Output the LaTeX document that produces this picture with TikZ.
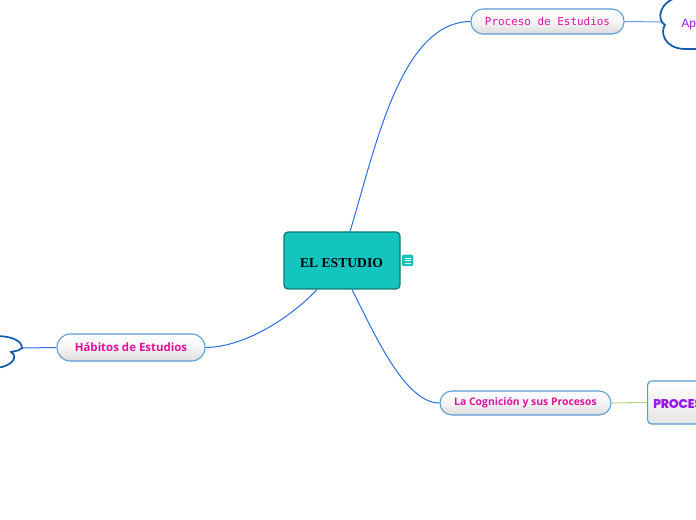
\documentclass[tikz,border=0pt]{standalone}
\usepackage{fontspec}
\usetikzlibrary{calc}
\newfontfamily\monofnt{DejaVu Sans Mono}
\newfontfamily\opensans{Open Sans}
\newfontfamily\timesfnt{Liberation Serif}
\newfontfamily\heavyfnt{Poppins}[BoldFeatures={FakeBold=1.5}]
\newfontfamily\cloudfnt{Liberation Sans}
\definecolor{teal1}{RGB}{20,196,190}
\definecolor{teal2}{RGB}{18,120,115}
\definecolor{pillborder}{RGB}{86,156,214}
\definecolor{linkblue}{RGB}{40,110,225}
\definecolor{linkgreen}{RGB}{180,215,130}
\definecolor{magentatext}{RGB}{222,18,160}
\definecolor{purpletext}{RGB}{150,25,235}
\definecolor{cloudblue}{RGB}{20,90,170}
\tikzset{
  pill/.style={draw=pillborder, line width=0.8pt, rounded corners=9pt, top color=white, bottom color=black!14, middle color=black!4, inner sep=0pt, text=magentatext},
  central/.style={draw=teal2, line width=0.9pt, fill=teal1, rounded corners=3pt, inner sep=0pt, minimum width=87pt, minimum height=42.75pt},
  link/.style={draw=linkblue, line width=0.75pt},
  cloudline/.style={draw=cloudblue, line width=1.3pt}
}
\begin{document}
\begin{tikzpicture}[x=0.75pt,y=-0.75pt]
\useasboundingbox (0,0) rectangle (696,520);
\clip (0,0) rectangle (696,520);
% central
\node[central] (c) at (342,260.5) {};
\node[inner sep=0pt] (ct) at (341.5,263) {\timesfnt\bfseries\fontsize{10.2pt}{12pt}\selectfont EL ESTUDIO};
\node[draw=teal1!80!black, line width=0.3pt, fill=teal1, rounded corners=1pt, minimum width=8.25pt, minimum height=8.25pt, inner sep=0pt] (icon) at (407.5,260.5) {};
\foreach \dy in {-2.5,0,2.5} \draw[white, line width=0.6pt] ($(icon.center)+(-3,\dy)$) -- ($(icon.center)+(3,\dy)$);
% branches
\node[pill, minimum width=114.75pt, minimum height=18.75pt] (p) at (547.5,21.5) {\monofnt\fontsize{8.2pt}{10pt}\selectfont Proceso de Estudios};
\node[pill, minimum width=111pt, minimum height=20.25pt, rounded corners=10pt] (h) at (131,347.5) {\opensans\bfseries\fontsize{8.6pt}{10pt}\selectfont Hábitos de Estudios};
\node[pill, minimum width=128.25pt, minimum height=18pt] (g) at (525.5,403) {\opensans\bfseries\fontsize{7.8pt}{9pt}\selectfont La Cognición y sus Procesos};
% connectors
\draw[link] ($(c.north)+(8,0)$) .. controls (375,150) and (400,22) .. (p.west);
\draw[link] ($(c.south)+(10,0)$) .. controls (375,335) and (405,403) .. (g.west);
\draw[link] ($(c.south)+(-25,0)$) .. controls (290,318) and (245,347) .. (h.east);
% right cloud
\coordinate (rc) at (663,22);
\draw[link, draw=linkblue!70] (p.east) -- (rc);
\draw[cloudline] (676,-2) .. controls (660,2) and (656,20) .. (665,25)
  .. controls (660,32) and (664,48) .. (684,49) -- (700,49);
\node[text=purpletext, anchor=west, inner sep=0pt] (ap) at (681,25) {\cloudfnt\fontsize{9pt}{10pt}\selectfont Ap};
% left cloud
\coordinate (lc) at (22,348);
\draw[link] (h.west) -- (lc);
\draw[cloudline] (-4,336) .. controls (10,336) and (22,340) .. (22,348)
  .. controls (18,352) and (12,351) .. (11,352)
  .. controls (18,356) and (14,366) .. (-4,368);
% PROCES box
\node[draw=pillborder, line width=0.9pt, rounded corners=3pt, top color=white, bottom color=black!10, minimum width=90pt, minimum height=32.25pt, anchor=west, inner sep=0pt] (pr) at (647,402.5) {};
\node[anchor=west, inner sep=0pt, text=purpletext] (prt) at (653,403.5) {\heavyfnt\bfseries\fontsize{9.2pt}{10pt}\selectfont PROCES};
\draw[draw=linkgreen, line width=0.8pt] (g.east) -- (pr.west);
\end{tikzpicture}
\end{document}
